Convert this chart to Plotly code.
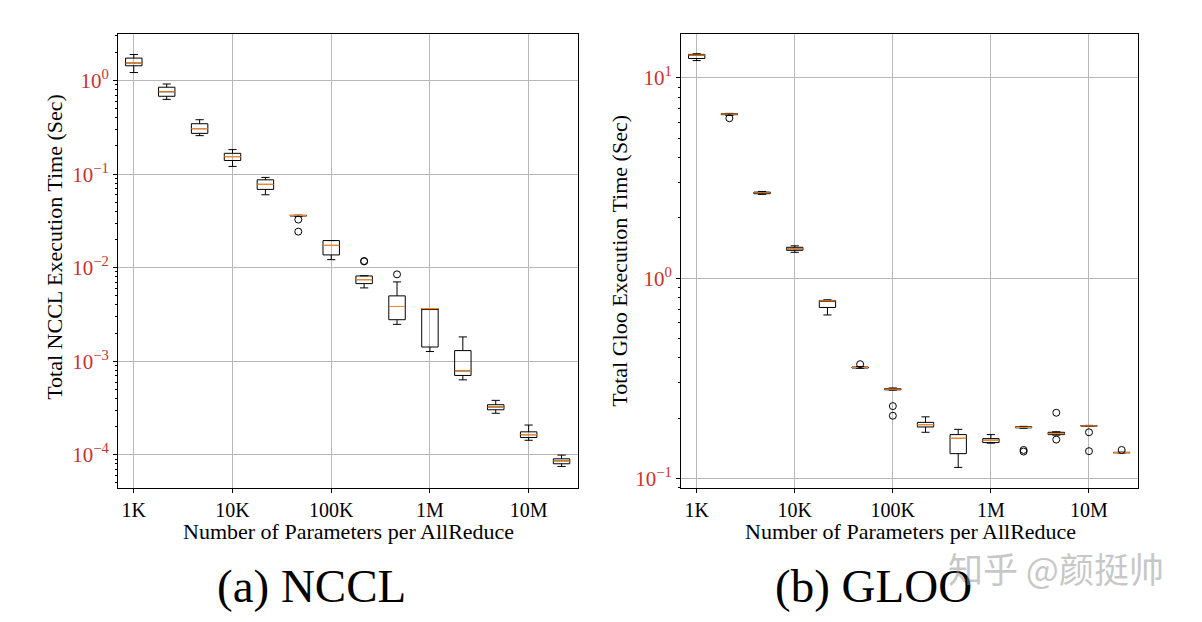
import numpy as np
import plotly.graph_objects as go

# ---------------- data ----------------
params = [1000, 2154, 4642, 10000, 21544, 46416, 100000, 215443, 464159,
          1000000, 2154435, 4641589, 10000000, 21544347]
x_tick_vals = [1e3, 1e4, 1e5, 1e6, 1e7]
x_tick_text = ["1K", "10K", "100K", "1M", "10M"]

nccl_low = [1.22, 0.63, 0.258, 0.121, 0.0602, 0.0355, 0.0122, 0.00608, 0.00248,
            0.00127, 0.000633, 0.000278, 0.000143, 0.0000751]
nccl_q1 = [1.44, 0.68, 0.273, 0.140, 0.0687, 0.0357, 0.0137, 0.00676, 0.00278,
           0.00142, 0.000705, 0.000303, 0.000153, 0.0000802]
nccl_med = [1.54, 0.76, 0.306, 0.154, 0.0777, 0.0362, 0.0173, 0.00745, 0.00385,
            0.00366, 0.000789, 0.000324, 0.000164, 0.0000863]
nccl_q3 = [1.74, 0.85, 0.346, 0.167, 0.0870, 0.0362, 0.0195, 0.00816, 0.00500,
           0.00366, 0.00130, 0.000343, 0.000176, 0.0000906]
nccl_high = [1.90, 0.92, 0.382, 0.183, 0.0923, 0.0364, 0.0195, 0.0082, 0.00705,
             0.00366, 0.00182, 0.000382, 0.000208, 0.0000993]
nccl_out_param = [46416, 46416, 215443, 215443, 464159]
nccl_out_val = [0.0327, 0.0243, 0.01167, 0.0118, 0.00849]

gloo_low = [12.2, 6.50, 2.62, 1.346, 0.655, 0.355, 0.276, 0.170, 0.1135,
            0.150, 0.178, 0.1645, 0.182, 0.1340]
gloo_q1 = [12.5, 6.55, 2.64, 1.377, 0.714, 0.356, 0.277, 0.1807, 0.133,
           0.151, 0.179, 0.1655, 0.1825, 0.1343]
gloo_med = [13.0, 6.60, 2.67, 1.40, 0.770, 0.358, 0.279, 0.1857, 0.1585,
            0.155, 0.180, 0.1675, 0.183, 0.1346]
gloo_q3 = [13.1, 6.62, 2.69, 1.426, 0.774, 0.360, 0.281, 0.1905, 0.1655,
           0.158, 0.181, 0.170, 0.1835, 0.1350]
gloo_high = [13.2, 6.65, 2.71, 1.45, 0.780, 0.362, 0.283, 0.203, 0.1758,
             0.1655, 0.182, 0.171, 0.184, 0.1352]
gloo_out_param = [2154, 46416, 100000, 100000, 2154435, 2154435, 4641589, 4641589,
                  10000000, 10000000, 21544347]
gloo_out_val = [6.29, 0.372, 0.2297, 0.2056, 0.1387, 0.1362, 0.2128, 0.1563,
                0.170, 0.1368, 0.1387]

# ---------------- styling ----------------
SERIF = "Liberation Serif, Times New Roman, serif"
RED = "#c8332d"
MED = "#f0882a"
BOXW = 1 / 6  # box width in decades (half the 1/3-decade spacing)

W, H = 1202, 622


def px_x(p):
    return p / W


def px_y(p):
    return 1 - p / H


fig = go.Figure()


def add_panel(xa, ya, low, q1, med, q3, high, out_p, out_v):
    pos = np.log10(params)
    fig.add_trace(go.Box(
        x=pos, q1=q1, median=med, q3=q3, lowerfence=low, upperfence=high,
        width=BOXW, whiskerwidth=0.5, boxpoints=False,
        line=dict(color="black", width=1), fillcolor="rgba(0,0,0,0)",
        xaxis=xa, yaxis=ya, showlegend=False, hoverinfo="skip"))
    mx, my = [], []
    for p, m in zip(pos, med):
        mx += [p - BOXW / 2, p + BOXW / 2, None]
        my += [m, m, None]
    fig.add_trace(go.Scatter(
        x=mx, y=my, mode="lines", line=dict(color=MED, width=1.2),
        xaxis=xa, yaxis=ya, showlegend=False, hoverinfo="skip"))
    fig.add_trace(go.Scatter(
        x=np.log10(out_p), y=out_v, mode="markers",
        marker=dict(symbol="circle-open", size=7, color="black",
                    line=dict(width=1, color="black")),
        xaxis=xa, yaxis=ya, showlegend=False, hoverinfo="skip"))


add_panel("x", "y", nccl_low, nccl_q1, nccl_med, nccl_q3, nccl_high,
          nccl_out_param, nccl_out_val)
add_panel("x2", "y2", gloo_low, gloo_q1, gloo_med, gloo_q3, gloo_high,
          gloo_out_param, gloo_out_val)


def sup(k):
    s = str(abs(k))
    return "10<sup>" + ("\u2212" if k < 0 else "") + s + "</sup>"


def minor_vals(lo, hi):
    v = []
    for k in range(lo, hi + 1):
        for m in range(2, 10):
            v.append(m * 10.0 ** k)
    return v


common_x = dict(
    type="linear", range=[2.84, 7.50],
    tickmode="array", tickvals=list(np.log10(x_tick_vals)), ticktext=x_tick_text,
    tickfont=dict(family=SERIF, size=20, color="black"),
    ticks="outside", ticklen=4, tickcolor="black",
    showline=True, mirror=True, linecolor="black", linewidth=1,
    showgrid=True, gridcolor="#b8b8b8", gridwidth=1, zeroline=False,
)

common_y = dict(
    type="log", ticks="outside", ticklen=4, tickcolor="black",
    tickfont=dict(family=SERIF, size=21, color=RED),
    showline=True, mirror=True, linecolor="black", linewidth=1,
    showgrid=True, gridcolor="#b8b8b8", gridwidth=1, zeroline=False,
)

fig.update_layout(
    width=W, height=H,
    margin=dict(l=0, r=0, t=0, b=0),
    paper_bgcolor="white", plot_bgcolor="white",
    xaxis=dict(domain=[px_x(118), px_x(578)], anchor="y", **common_x),
    xaxis2=dict(domain=[px_x(681), px_x(1138)], anchor="y2", **common_x),
    yaxis=dict(domain=[px_y(490), px_y(34)], anchor="x", range=[-4.351, 0.50],
               tickmode="array", tickvals=[10.0 ** k for k in range(-4, 1)],
               ticktext=[sup(k) for k in range(-4, 1)],
               minor=dict(tickmode="array", tickvals=minor_vals(-5, 0),
                          ticks="outside", ticklen=2.5, tickcolor="black",
                          showgrid=False),
               **common_y),
    yaxis2=dict(domain=[px_y(490), px_y(34)], anchor="x2", range=[-1.046, 1.220],
                tickmode="array", tickvals=[10.0 ** k for k in range(-1, 2)],
                ticktext=[sup(k) for k in range(-1, 2)],
                minor=dict(tickmode="array", tickvals=minor_vals(-2, 1),
                           ticks="outside", ticklen=2.5, tickcolor="black",
                           showgrid=False),
                **common_y),
)

ann = [
    dict(text="Total NCCL Execution Time (Sec)", x=px_x(55), y=px_y(248),
         textangle=-90, font=dict(family=SERIF, size=22, color="black")),
    dict(text="Total Gloo Execution Time (Sec)", x=px_x(620), y=px_y(262),
         textangle=-90, font=dict(family=SERIF, size=22, color="black")),
    dict(text="Number of Parameters per AllReduce", x=px_x(348), y=px_y(534),
         font=dict(family=SERIF, size=22, color="black")),
    dict(text="Number of Parameters per AllReduce", x=px_x(910), y=px_y(534),
         font=dict(family=SERIF, size=22, color="black")),
    dict(text="(a) NCCL", x=px_x(311), y=px_y(589),
         font=dict(family=SERIF, size=47, color="black")),
    dict(text="(b) GLOO", x=px_x(873), y=px_y(589),
         font=dict(family=SERIF, size=47, color="black")),
    dict(text="知乎 @颜挺帅", x=px_x(1056), y=px_y(570),
         font=dict(family="Noto Sans CJK SC", size=35, color="rgba(150,150,150,0.55)")),
]
for a in ann:
    a.update(xref="paper", yref="paper", showarrow=False,
             xanchor="center", yanchor="middle")
fig.update_layout(annotations=ann)

fig.write_html("out.html")
